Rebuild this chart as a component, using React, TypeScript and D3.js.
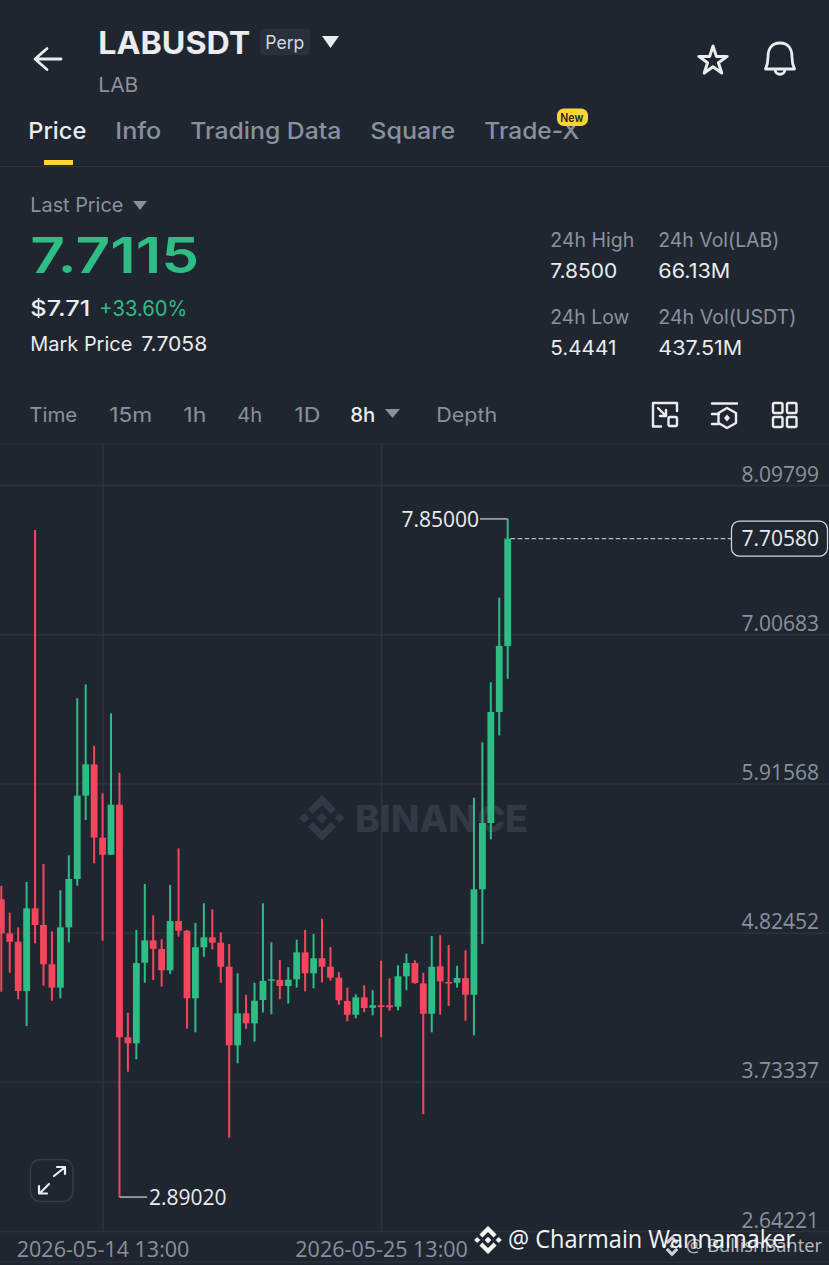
// ─── LabUsdtChart ─────────────────────────────────────────────────────────────
//
// Mobile futures screen: header chrome in JSX, candles + axes through D3.

import { useEffect, useRef } from "react";
import * as d3 from "d3";

const WIDTH = 829;
const HEIGHT = 1265;

const BG = "#1F2630";
const UP = "#2EBD85";
const DOWN = "#F6465D";
const GREY = "#8A919E";
const WHITE = "#EAECEF";
const GRID = "#2E343F";

// ── Data ──────────────────────────────────────────────────────────────────────

const opens = [
  5.068, 4.819, 4.758, 4.397, 5.002, 4.88, 4.593, 4.422, 4.863, 5.217, 5.826, 6.055, 5.519, 5.394, 5.76, 4.059,
  4.015, 4.604, 4.768, 4.705, 4.549, 4.909, 4.838, 4.344, 4.717, 4.79, 4.751, 4.575, 4.0, 4.234, 4.161, 4.332,
  4.473, 4.478, 4.434, 4.483, 4.68, 4.527, 4.637, 4.575, 4.495, 4.324, 4.224, 4.351, 4.275, 4.293, 4.293, 4.283,
  4.505, 4.602, 4.453, 4.231, 4.578, 4.463, 4.458, 4.492, 4.37, 5.141, 5.626, 6.438, 6.921,
];
const highs = [
  5.165, 4.97, 4.863, 5.195, 7.769, 5.326, 4.834, 5.134, 5.39, 6.538, 6.64, 6.191, 5.843, 6.428, 5.994, 4.239,
  4.844, 5.18, 4.951, 4.776, 5.173, 5.441, 4.844, 4.895, 5.039, 4.995, 4.827, 4.741, 4.527, 4.37, 4.458, 5.039,
  4.754, 4.624, 4.571, 4.773, 4.844, 4.814, 4.926, 4.719, 4.536, 4.422, 4.373, 4.439, 4.403, 4.619, 4.49, 4.585,
  4.67, 4.622, 4.531, 4.8, 4.805, 4.734, 4.582, 4.695, 5.811, 6.216, 6.655, 7.274, 7.85,
];
const lows = [
  4.392, 4.531, 4.337, 4.141, 4.746, 4.436, 4.326, 4.344, 4.754, 5.168, 5.648, 5.331, 4.765, 5.394, 2.8902, 3.807,
  3.898, 4.458, 4.478, 4.429, 4.522, 4.795, 4.122, 4.095, 4.648, 4.702, 4.458, 3.325, 3.869, 4.12, 4.027, 4.24,
  4.227, 4.337, 4.305, 4.422, 4.395, 4.417, 4.461, 4.473, 4.297, 4.176, 4.198, 4.242, 4.22, 4.059, 4.253, 4.256,
  4.403, 4.451, 3.496, 4.095, 4.224, 4.288, 4.422, 4.18, 4.073, 4.741, 5.507, 6.267, 6.681,
];
const closes = [
  4.819, 4.758, 4.397, 5.002, 4.88, 4.593, 4.422, 4.863, 5.217, 5.826, 6.055, 5.519, 5.394, 5.76, 4.059, 4.015,
  4.602, 4.768, 4.705, 4.549, 4.909, 4.838, 4.344, 4.717, 4.79, 4.751, 4.575, 4.0, 4.234, 4.161, 4.326, 4.471,
  4.483, 4.434, 4.48, 4.68, 4.527, 4.637, 4.575, 4.495, 4.329, 4.224, 4.351, 4.273, 4.293, 4.28, 4.278, 4.505,
  4.602, 4.456, 4.231, 4.575, 4.468, 4.454, 4.492, 4.37, 5.141, 5.626, 6.438, 6.921, 7.7058,
];

const priceTicks = [8.09799, 7.00683, 5.91568, 4.82452, 3.73337, 2.64221];
const timeTickIndex = [12, 45];
const timeTickLabels = ["2026-05-14 13:00", "2026-05-25 13:00"];

const HIGH_LABEL = 7.85;
const LOW_LABEL = 2.8902;
const MARK_PRICE = 7.7058;

const candles = opens.map((open, i) => ({
  i,
  open,
  high: highs[i],
  low: lows[i],
  close: closes[i],
}));

// ── Small helpers ─────────────────────────────────────────────────────────────

const UI_FONT = "Inter, 'Noto Sans', sans-serif";
const AXIS_FONT = "'Open Sans', 'Noto Sans', sans-serif";

type LabelProps = {
  x: number;
  y: number;
  size: number;
  w: number;
  fill?: string;
  weight?: number;
  children: string;
};

function Label({ x, y, size, w, fill = WHITE, weight = 400, children }: LabelProps) {
  return (
    <text
      x={x - 0.7}
      y={y}
      fontSize={size}
      fontWeight={weight}
      fill={fill}
      fontFamily={UI_FONT}
      textLength={w}
      lengthAdjust="spacingAndGlyphs"
    >
      {children}
    </text>
  );
}

function BinanceLogo({ cx, cy, r, fill, opacity = 1 }: { cx: number; cy: number; r: number; fill: string; opacity?: number }) {
  const k = r / 22;
  return (
    <g transform={`translate(${cx},${cy}) scale(${k})`} fill={fill} opacity={opacity}>
      <path d="M0,-23 L14,-9 L9,-4 L0,-13 L-9,-4 L-14,-9 Z" />
      <path d="M0,23 L14,9 L9,4 L0,13 L-9,4 L-14,9 Z" />
      <path d="M0,-5.5 L5.5,0 L0,5.5 L-5.5,0 Z" />
      <path d="M-17.5,-5 L-12.5,0 L-17.5,5 L-22.5,0 Z" />
      <path d="M17.5,-5 L22.5,0 L17.5,5 L12.5,0 Z" />
    </g>
  );
}

const iconStroke = { fill: "none", stroke: WHITE, strokeWidth: 2.4, strokeLinecap: "round", strokeLinejoin: "round" } as const;

export default function App() {
  const chartRef = useRef<SVGGElement>(null);

  useEffect(() => {
    if (!chartRef.current) return;

    // ── Scales ──────────────────────────────────────────────────────────────

    const xScale = d3.scaleLinear().domain([0, 60]).range([1.3, 507.7]);
    const yScale = d3.scaleLinear().domain([2.64221, 8.09799]).range([1231, 485]);

    const g = d3.select(chartRef.current);
    g.selectAll("*").remove();

    // ── Gridlines + price axis ──────────────────────────────────────────────

    g.append("g")
      .attr("transform", `translate(${WIDTH},0)`)
      .call(
        d3.axisLeft(yScale)
          .tickValues(priceTicks)
          .tickSize(WIDTH)
          .tickFormat((d) => (d as number).toFixed(5))
      )
      .call((el) => el.select(".domain").remove())
      .call((el) => el.selectAll("line").attr("stroke", GRID).attr("stroke-width", 1.4))
      .call((el) =>
        el
          .selectAll("text")
          .attr("x", -10)
          .attr("dy", 0)
          .attr("y", -4)
          .attr("text-anchor", "end")
          .attr("fill", GREY)
          .attr("font-size", 21)
          .attr("font-family", AXIS_FONT)
      );

    // ── Time axis ───────────────────────────────────────────────────────────

    g.append("g")
      .attr("transform", "translate(0,1231)")
      .call(
        d3.axisBottom(xScale)
          .tickValues(timeTickIndex)
          .tickSize(-787)
          .tickFormat((_, i) => timeTickLabels[i])
      )
      .call((el) => el.select(".domain").remove())
      .call((el) => el.selectAll("line").attr("stroke", GRID).attr("stroke-width", 1.4))
      .call((el) =>
        el
          .selectAll("text")
          .attr("y", 26)
          .attr("dy", 0)
          .attr("fill", GREY)
          .attr("font-size", 21.5)
          .attr("font-family", AXIS_FONT)
      );

    // ── Background watermark ────────────────────────────────────────────────

    g.append("text")
      .attr("x", 355)
      .attr("y", 832)
      .attr("font-size", 37)
      .attr("font-weight", 800)
      .attr("font-family", UI_FONT)
      .attr("fill", "#333945")
      .attr("textLength", 173)
      .attr("lengthAdjust", "spacingAndGlyphs")
      .text("BINANCE");

    const mark = g.append("g").attr("transform", "translate(322,818)").attr("fill", "#333945");
    [
      "M0,-23 L14,-9 L9,-4 L0,-13 L-9,-4 L-14,-9 Z",
      "M0,23 L14,9 L9,4 L0,13 L-9,4 L-14,9 Z",
      "M0,-5.5 L5.5,0 L0,5.5 L-5.5,0 Z",
      "M-17.5,-5 L-12.5,0 L-17.5,5 L-22.5,0 Z",
      "M17.5,-5 L22.5,0 L17.5,5 L12.5,0 Z",
    ].forEach((d) => mark.append("path").attr("d", d));

    // ── Candles ─────────────────────────────────────────────────────────────

    const colorOf = (d: (typeof candles)[number]) => (d.close >= d.open ? UP : DOWN);

    g.selectAll(".wick")
      .data(candles)
      .enter()
      .append("line")
      .attr("class", "wick")
      .attr("x1", (d) => xScale(d.i))
      .attr("x2", (d) => xScale(d.i))
      .attr("y1", (d) => yScale(d.high))
      .attr("y2", (d) => yScale(d.low))
      .attr("stroke", colorOf)
      .attr("stroke-width", 2);

    g.selectAll(".body")
      .data(candles)
      .enter()
      .append("rect")
      .attr("class", "body")
      .attr("x", (d) => xScale(d.i) - 3.4)
      .attr("width", 6.8)
      .attr("y", (d) => yScale(Math.max(d.open, d.close)))
      .attr("height", (d) => Math.max(1.5, Math.abs(yScale(d.open) - yScale(d.close))))
      .attr("fill", colorOf);

    // ── High / low callouts ─────────────────────────────────────────────────

    const lastX = xScale(60);
    const lowX = xScale(14);

    g.append("line")
      .attr("x1", 480)
      .attr("x2", lastX)
      .attr("y1", yScale(HIGH_LABEL))
      .attr("y2", yScale(HIGH_LABEL))
      .attr("stroke", "#B7BDC6")
      .attr("stroke-width", 1.4);

    g.append("text")
      .attr("x", 479)
      .attr("y", yScale(HIGH_LABEL) + 7.7)
      .attr("text-anchor", "end")
      .attr("font-size", 21)
      .attr("font-family", AXIS_FONT)
      .attr("fill", WHITE)
      .text(HIGH_LABEL.toFixed(5));

    g.append("line")
      .attr("x1", lowX)
      .attr("x2", 147)
      .attr("y1", yScale(LOW_LABEL))
      .attr("y2", yScale(LOW_LABEL))
      .attr("stroke", "#B7BDC6")
      .attr("stroke-width", 1.4);

    g.append("text")
      .attr("x", 149)
      .attr("y", yScale(LOW_LABEL) + 8)
      .attr("font-size", 21)
      .attr("font-family", AXIS_FONT)
      .attr("fill", WHITE)
      .text(LOW_LABEL.toFixed(5));

    // ── Mark price line + tag ───────────────────────────────────────────────

    g.append("line")
      .attr("x1", lastX + 3)
      .attr("x2", 732)
      .attr("y1", yScale(MARK_PRICE))
      .attr("y2", yScale(MARK_PRICE))
      .attr("stroke", "#B7BDC6")
      .attr("stroke-width", 1.3)
      .attr("stroke-dasharray", "4.5,2.5");

    g.append("rect")
      .attr("x", 731.5)
      .attr("y", yScale(MARK_PRICE) - 17.5)
      .attr("width", 96)
      .attr("height", 35)
      .attr("rx", 8)
      .attr("fill", BG)
      .attr("stroke", "#D5D8DC")
      .attr("stroke-width", 1.2);

    g.append("text")
      .attr("x", 819)
      .attr("y", yScale(MARK_PRICE) + 7.5)
      .attr("text-anchor", "end")
      .attr("font-size", 21)
      .attr("font-family", AXIS_FONT)
      .attr("fill", WHITE)
      .text(MARK_PRICE.toFixed(5));
  }, []);

  const starPath = d3.symbol().type(d3.symbolStar).size(250)() ?? "";

  return (
    <svg
      width={WIDTH}
      height={HEIGHT}
      viewBox={`0 0 ${WIDTH} ${HEIGHT}`}
      style={{ position: "absolute", left: 0, top: 0, display: "block", background: BG }}
    >
      <rect width={WIDTH} height={HEIGHT} fill={BG} />

      {/* header */}
      <path d="M61,59 H36 M47,48.5 L35,59 L47,69.5" {...iconStroke} strokeWidth={2.8} />
      <Label x={99} y={54} size={31} w={152} weight={700}>LABUSDT</Label>
      <rect x={260} y={29} width={50} height={26} rx={4} fill="#2A303B" />
      <Label x={266} y={49} size={18} w={39} fill="#D5D8DC">Perp</Label>
      <path d="M322,36 H339 L330.5,48 Z" fill={WHITE} />
      <Label x={99} y={92} size={20} w={40} fill={GREY}>LAB</Label>

      <path d={starPath} transform="translate(713,61)" {...iconStroke} strokeWidth={3} />
      <path
        d="M780,43 C771,43 768,50 768,57 C768,63 767,66 765.5,69 H794.5 C793,66 792,63 792,57 C792,50 789,43 780,43 Z M775,69 C775,76 785,76 785,69"
        {...iconStroke}
        strokeWidth={2.8}
      />

      {/* tabs */}
      <Label x={29} y={139} size={23} w={58} weight={500}>Price</Label>
      <Label x={116} y={139} size={23} w={46} fill={GREY} weight={500}>Info</Label>
      <Label x={191} y={139} size={23} w={151} fill={GREY} weight={500}>Trading Data</Label>
      <Label x={371} y={139} size={23} w={85} fill={GREY} weight={500}>Square</Label>
      <Label x={485} y={139} size={23} w={95} fill={GREY} weight={500}>Trade-X</Label>
      <rect x={557} y={108.5} width={31} height={17.5} rx={7} fill="#FCD535" />
      <Label x={561} y={122} size={12} w={23} fill="#1E2329" weight={600}>New</Label>
      <rect x={44} y={160} width={29} height={5} fill="#FCD535" />
      <line x1={0} x2={WIDTH} y1={166.5} y2={166.5} stroke={GRID} strokeWidth={1.2} />

      {/* price block */}
      <Label x={31} y={212} size={20} w={93} fill={GREY}>Last Price</Label>
      <path d="M133,201 H147 L140,210 Z" fill={GREY} />
      <Label x={31} y={273} size={50} w={169} fill={UP} weight={600}>7.7115</Label>
      <Label x={31} y={316} size={22} w={60} weight={500}>$7.71</Label>
      <Label x={100} y={316} size={21} w={88} fill={UP}>+33.60%</Label>
      <Label x={31} y={351} size={20} w={102}>Mark Price</Label>
      <Label x={142} y={351} size={20} w={66}>7.7058</Label>

      <Label x={551} y={247} size={20} w={84} fill={GREY}>24h High</Label>
      <Label x={659} y={247} size={20} w={121} fill={GREY}>24h Vol(LAB)</Label>
      <Label x={551} y={278} size={20} w={67}>7.8500</Label>
      <Label x={659} y={278} size={20} w={72}>66.13M</Label>
      <Label x={551} y={324} size={20} w={79} fill={GREY}>24h Low</Label>
      <Label x={659} y={324} size={20} w={138} fill={GREY}>24h Vol(USDT)</Label>
      <Label x={551} y={355} size={20} w={66}>5.4441</Label>
      <Label x={659} y={355} size={20} w={84}>437.51M</Label>

      {/* interval bar */}
      <Label x={30} y={422} size={20} w={48} fill={GREY}>Time</Label>
      <Label x={110} y={422} size={20} w={43} fill={GREY}>15m</Label>
      <Label x={184} y={422} size={20} w={23} fill={GREY}>1h</Label>
      <Label x={238} y={422} size={20} w={25} fill={GREY}>4h</Label>
      <Label x={295} y={422} size={20} w={26} fill={GREY}>1D</Label>
      <Label x={351} y={422} size={20} w={25} weight={500}>8h</Label>
      <path d="M385,409 H400 L392.5,418 Z" fill={GREY} />
      <Label x={437} y={422} size={20} w={61} fill={GREY}>Depth</Label>

      <g {...iconStroke}>
        <path d="M661,426.5 H653 V403 H677 V411" />
        <path d="M658,408 L666,416 M666,410 V416 H660" />
        <rect x={668.5} y={417} width={8.5} height={9} rx={1.5} />
        <path d="M712,403.5 H737 M712,414 H719 M712,424 H719" />
        <path d="M727,408 L736,413 V423 L727,428 L718.5,423 V413 Z" />
        <path d="M727,414.5 L730,418 L727,421.5 L724,418 Z" fill={WHITE} stroke="none" />
        <rect x={773} y={403} width={9.5} height={10} rx={1.5} />
        <rect x={787} y={403} width={9.5} height={10} rx={1.5} />
        <rect x={773} y={417} width={9.5} height={10} rx={1.5} />
        <rect x={787} y={417} width={9.5} height={10} rx={1.5} />
      </g>

      <line x1={0} x2={WIDTH} y1={444} y2={444} stroke={GRID} strokeWidth={1.2} />
      <line x1={0} x2={WIDTH} y1={1262} y2={1262} stroke={GRID} strokeWidth={1} />

      {/* chart */}
      <g ref={chartRef} />

      {/* expand button */}
      <rect x={30.5} y={1159.5} width={42.5} height={42} rx={10} fill={BG} stroke="#343B47" strokeWidth={1.6} />
      <g {...iconStroke} strokeWidth={2.2}>
        <path d="M54,1176 L64,1168 M57,1167 H65 V1174" />
        <path d="M49,1184 L40,1193 M39,1186 V1193.5 H47" />
      </g>

      {/* overlaid author credits */}
      <BinanceLogo cx={672} cy={1246} r={10} fill="#EAECEF" opacity={0.85} />
      <text x={686} y={1252} fontSize={19} fill={WHITE} opacity={0.75} fontFamily={AXIS_FONT} textLength={136} lengthAdjust="spacingAndGlyphs">
        @ BullishBanter
      </text>
      <BinanceLogo cx={488} cy={1240} r={13.5} fill="#F5F5F5" />
      <text x={508} y={1248} fontSize={25} fill="#F5F5F5" fontFamily={AXIS_FONT} textLength={287} lengthAdjust="spacingAndGlyphs">
        @ Charmain Wannamaker
      </text>
    </svg>
  );
}
